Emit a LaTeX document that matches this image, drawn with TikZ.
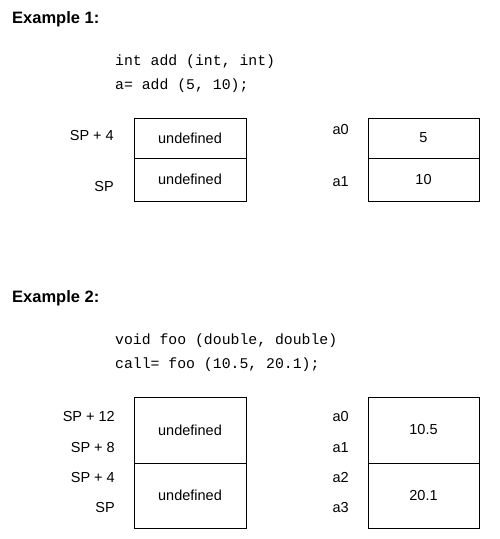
\documentclass[tikz,border=0pt]{standalone}
\usepackage{fontspec}
\setmainfont{Liberation Sans}
\setmonofont{Liberation Mono}
\begin{document}
\begin{tikzpicture}[
  x=1pt, y=-1pt,
  title/.style={anchor=west, inner sep=0, font=\fontsize{16.5}{18}\selectfont\bfseries},
  code/.style={anchor=west, inner sep=0, font=\fontsize{14.8}{16}\selectfont\ttfamily},
  lbl/.style={anchor=east, inner sep=0, font=\fontsize{14.5}{16}\selectfont},
  cell/.style={draw, line width=0.8pt, minimum width=112pt, inner sep=0, font=\fontsize{14.5}{16}\selectfont}
]
\useasboundingbox (0,0) rectangle (499,539);
% Example 1
\node[title] (t1) at (12,19) {Example 1:};
\node[code] (c1a) at (115,62) {int add (int, int)};
\node[code] (c1b) at (115,86) {a= add (5, 10);};
\node[cell, minimum height=40pt] (s1top) at (190,138) {undefined};
\node[cell, minimum height=43pt] (s1bot) at (190,179.5) {undefined};
\node[lbl] (l1a) at (114,136) {SP + 4};
\node[lbl] (l1b) at (114,187) {SP};
\node[cell, minimum width=111pt, minimum height=40pt] (r1top) at (423.5,138) {5};
\node[cell, minimum width=111pt, minimum height=43pt] (r1bot) at (423.5,179.5) {10};
\node[lbl] (a1a) at (349,130) {a0};
\node[lbl] (a1b) at (349,182) {a1};
% Example 2
\node[title] (t2) at (12,298) {Example 2:};
\node[code] (c2a) at (115,341) {void foo (double, double)};
\node[code] (c2b) at (115,365) {call= foo (10.5, 20.1);};
\node[cell, minimum height=66pt] (s2top) at (190,430) {undefined};
\node[cell, minimum height=65pt] (s2bot) at (190,495.5) {undefined};
\node[lbl] (l2a) at (115,417) {SP + 12};
\node[lbl] (l2b) at (115,448) {SP + 8};
\node[lbl] (l2c) at (115,478) {SP + 4};
\node[lbl] (l2d) at (115,508) {SP};
\node[cell, minimum width=111pt, minimum height=66pt] (r2top) at (423.5,430) {10.5};
\node[cell, minimum width=111pt, minimum height=65pt] (r2bot) at (423.5,495.5) {20.1};
\node[lbl] (a2a) at (349,417) {a0};
\node[lbl] (a2b) at (349,448) {a1};
\node[lbl] (a2c) at (349,478) {a2};
\node[lbl] (a2d) at (349,508) {a3};
\end{tikzpicture}
\end{document}
